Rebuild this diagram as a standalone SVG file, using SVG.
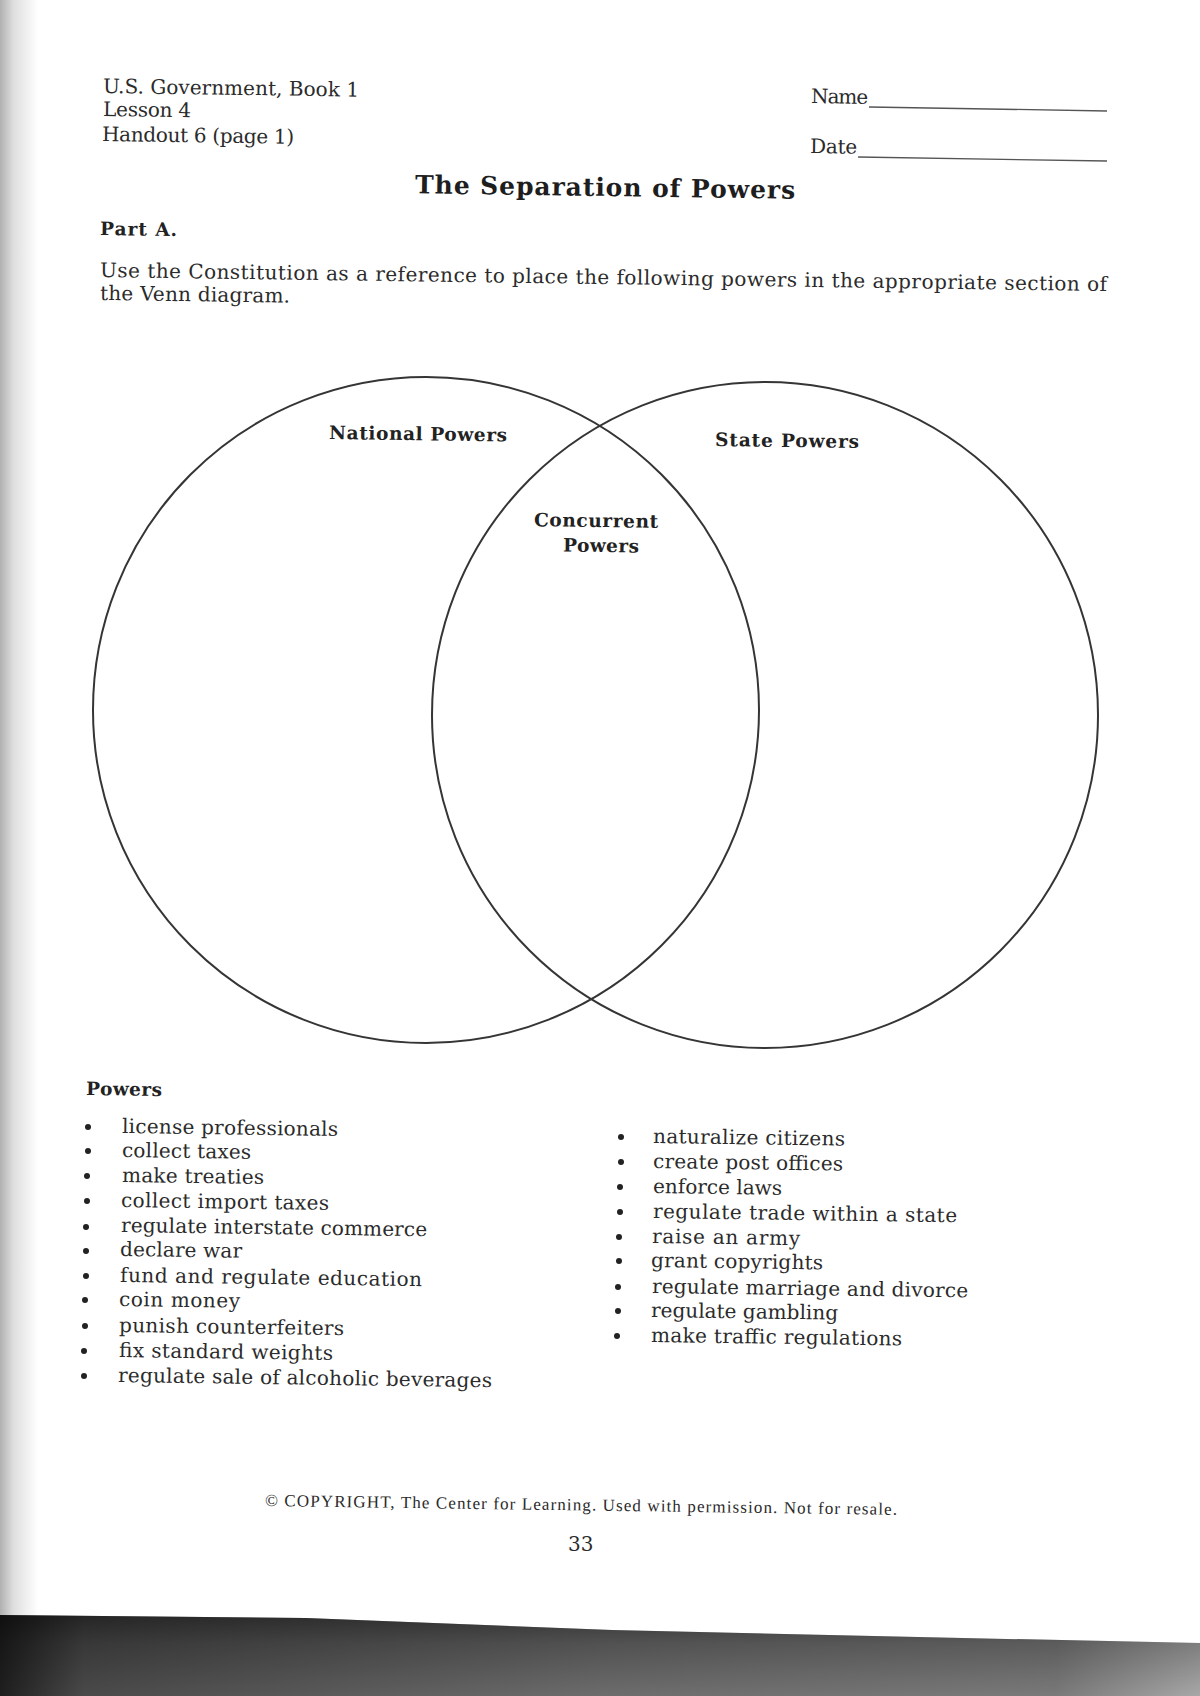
<svg xmlns="http://www.w3.org/2000/svg" width="1200" height="1696" viewBox="0 0 1200 1696">
<defs>
<style>
.t{font-family:"DejaVu Serif","Liberation Serif",serif;font-size:20px;fill:#2b2b2b}
.b{font-family:"DejaVu Serif","Liberation Serif",serif;font-weight:bold;font-size:18.5px;fill:#222}
.ttl{font-family:"DejaVu Serif","Liberation Serif",serif;font-weight:bold;font-size:25px;fill:#1e1e1e}
.ft{font-family:"Liberation Serif","DejaVu Serif",serif;font-size:17px;fill:#2b2b2b}
.venn{fill:none;stroke:#353535;stroke-width:2}
.rule{stroke:#555;stroke-width:1.3}
.dot{fill:#222}
</style>
<linearGradient id="leftEdge" x1="0" y1="0" x2="1" y2="0">
<stop offset="0" stop-color="#b0b0b0"/>
<stop offset="0.35" stop-color="#dedede"/>
<stop offset="1" stop-color="#ffffff"/>
</linearGradient>
<linearGradient id="bandH" x1="0" y1="0" x2="1" y2="0">
<stop offset="0" stop-color="#1e1e1e"/>
<stop offset="0.07" stop-color="#4a4a4a"/>
<stop offset="0.5" stop-color="#6c6c6c"/>
<stop offset="0.88" stop-color="#7a7a7a"/>
<stop offset="1" stop-color="#a8a8a8"/>
</linearGradient>
<linearGradient id="bandV" x1="0" y1="0" x2="0" y2="1">
<stop offset="0" stop-color="#000" stop-opacity="0.5"/>
<stop offset="0.35" stop-color="#000" stop-opacity="0.25"/>
<stop offset="1" stop-color="#000" stop-opacity="0"/>
</linearGradient>
</defs>
<rect width="1200" height="1696" fill="#ffffff"/>
<rect x="0" y="0" width="38" height="1630" fill="url(#leftEdge)"/>

<g id="header">
<text class="t" x="103" y="93" textLength="256" transform="rotate(0.8 103 93)">U.S. Government, Book 1</text>
<text class="t" x="103" y="116" textLength="88" transform="rotate(0.8 103 116)">Lesson 4</text>
<text class="t" x="102" y="141" textLength="192" transform="rotate(0.8 102 141)">Handout 6 (page 1)</text>
<text class="t" x="811" y="103" textLength="57" transform="rotate(0.8 811 103)">Name</text>
<line class="rule" x1="869" y1="107" x2="1107" y2="111"/>
<text class="t" x="810" y="153" textLength="47" transform="rotate(0.8 810 153)">Date</text>
<line class="rule" x1="858" y1="157" x2="1107" y2="161"/>
</g>

<g id="title">
<text class="ttl" x="605" y="196" text-anchor="middle" textLength="380" transform="rotate(0.8 605 196)">The Separation of Powers</text>
</g>

<g id="instructions">
<text class="b" x="100" y="235" textLength="77" transform="rotate(0.8 100 235)">Part A.</text>
<text class="t" x="100" y="277" textLength="1007" transform="rotate(0.8 100 277)">Use the Constitution as a reference to place the following powers in the appropriate section of</text>
<text class="t" x="100" y="300" textLength="190" transform="rotate(0.8 100 300)">the Venn diagram.</text>
</g>

<g id="national-powers">
<circle class="venn" cx="426" cy="710" r="333"/>
<text class="b" x="329" y="439" textLength="178" transform="rotate(0.8 329 439)">National Powers</text>
</g>
<g id="state-powers">
<circle class="venn" cx="765" cy="715" r="333"/>
<text class="b" x="715" y="446" textLength="144" transform="rotate(0.8 715 446)">State Powers</text>
</g>
<g id="concurrent-powers">
<text class="b" x="596" y="527" text-anchor="middle" textLength="124" transform="rotate(0.8 596 527)">Concurrent</text>
<text class="b" x="601" y="552" text-anchor="middle" textLength="76" transform="rotate(0.8 601 552)">Powers</text>
</g>

<g id="powers-list-left">
<text class="b" x="86" y="1095" textLength="76" transform="rotate(0.8 86 1095)">Powers</text>
<circle class="dot" cx="88" cy="1127" r="3"/>
<text class="t" x="122" y="1133" textLength="216" transform="rotate(0.8 122 1133)">license professionals</text>
<circle class="dot" cx="88" cy="1151" r="3"/>
<text class="t" x="122" y="1157" textLength="129" transform="rotate(0.8 122 1157)">collect taxes</text>
<circle class="dot" cx="87" cy="1176" r="3"/>
<text class="t" x="122" y="1182" textLength="142" transform="rotate(0.8 122 1182)">make treaties</text>
<circle class="dot" cx="87" cy="1201" r="3"/>
<text class="t" x="121" y="1207" textLength="208" transform="rotate(0.8 121 1207)">collect import taxes</text>
<circle class="dot" cx="86" cy="1227" r="3"/>
<text class="t" x="121" y="1232" textLength="306" transform="rotate(0.8 121 1232)">regulate interstate commerce</text>
<circle class="dot" cx="86" cy="1251" r="3"/>
<text class="t" x="120" y="1256" textLength="122" transform="rotate(0.8 120 1256)">declare war</text>
<circle class="dot" cx="86" cy="1276" r="3"/>
<text class="t" x="120" y="1282" textLength="302" transform="rotate(0.8 120 1282)">fund and regulate education</text>
<circle class="dot" cx="85" cy="1300" r="3"/>
<text class="t" x="119" y="1306" textLength="121" transform="rotate(0.8 119 1306)">coin money</text>
<circle class="dot" cx="85" cy="1326" r="3"/>
<text class="t" x="119" y="1332" textLength="225" transform="rotate(0.8 119 1332)">punish counterfeiters</text>
<circle class="dot" cx="84" cy="1351" r="3"/>
<text class="t" x="119" y="1357" textLength="214" transform="rotate(0.8 119 1357)">fix standard weights</text>
<circle class="dot" cx="84" cy="1376" r="3"/>
<text class="t" x="118" y="1382" textLength="374" transform="rotate(0.8 118 1382)">regulate sale of alcoholic beverages</text>
</g>

<g id="powers-list-right">
<circle class="dot" cx="621" cy="1137" r="3"/>
<text class="t" x="653" y="1143" textLength="192" transform="rotate(0.8 653 1143)">naturalize citizens</text>
<circle class="dot" cx="621" cy="1162" r="3"/>
<text class="t" x="653" y="1168" textLength="190" transform="rotate(0.8 653 1168)">create post offices</text>
<circle class="dot" cx="620" cy="1187" r="3"/>
<text class="t" x="653" y="1193" textLength="129" transform="rotate(0.8 653 1193)">enforce laws</text>
<circle class="dot" cx="620" cy="1212" r="3"/>
<text class="t" x="653" y="1218" textLength="304" transform="rotate(0.8 653 1218)">regulate trade within a state</text>
<circle class="dot" cx="619" cy="1237" r="3"/>
<text class="t" x="652" y="1243" textLength="148" transform="rotate(0.8 652 1243)">raise an army</text>
<circle class="dot" cx="619" cy="1261" r="3"/>
<text class="t" x="651" y="1267" textLength="172" transform="rotate(0.8 651 1267)">grant copyrights</text>
<circle class="dot" cx="618" cy="1287" r="3"/>
<text class="t" x="652" y="1293" textLength="316" transform="rotate(0.8 652 1293)">regulate marriage and divorce</text>
<circle class="dot" cx="618" cy="1311" r="3"/>
<text class="t" x="651" y="1317" textLength="187" transform="rotate(0.8 651 1317)">regulate gambling</text>
<circle class="dot" cx="617" cy="1336" r="3"/>
<text class="t" x="651" y="1342" textLength="251" transform="rotate(0.8 651 1342)">make traffic regulations</text>
</g>

<g id="footer">
<text class="ft" x="265" y="1506" textLength="632" transform="rotate(0.8 265 1506)">© COPYRIGHT, The Center for Learning. Used with permission. Not for resale.</text>
<text class="t" x="568" y="1551" style="font-size:20px">33</text>
</g>

<g id="page-edge">
<polygon points="0,1615 306,1618 612,1630 918,1637 1200,1643 1200,1696 0,1696" fill="url(#bandH)"/>
<polygon points="0,1615 306,1618 612,1630 918,1637 1200,1643 1200,1696 0,1696" fill="url(#bandV)"/>
</g>
</svg>
